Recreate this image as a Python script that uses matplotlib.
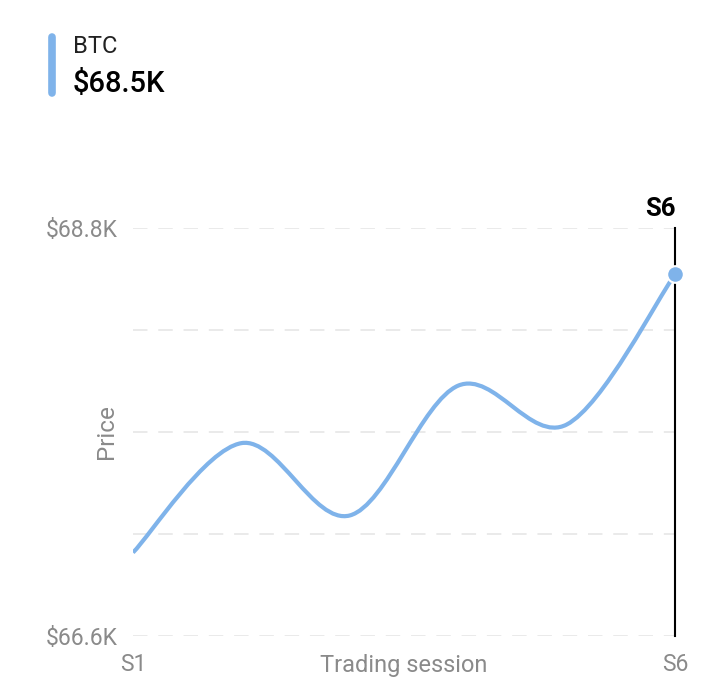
import matplotlib
matplotlib.use("Agg")
import matplotlib.pyplot as plt
from matplotlib.path import Path
from matplotlib.patches import PathPatch
from matplotlib.lines import Line2D

plt.rcParams['font.family'] = ['Roboto', 'DejaVu Sans']

# data
sessions = ['S1', 'S2', 'S3', 'S4', 'S5', 'S6']
prices = [67.05, 67.64, 67.25, 67.95, 67.74, 68.55]   # $K
y_ticks = [66.6, 67.15, 67.7, 68.25, 68.8]
y_labels = ['$66.6K', '', '', '', '$68.8K']
series_name = 'BTC'
last_label = '$68.5K'

blue = '#7fb3ea'
grey = '#8a8a8a'


def smooth_path(xs, ys):
    # catmull-rom through the points, drawn as cubic bezier segments
    pts = list(zip(xs, ys))
    ext = [pts[0]] + pts + [pts[-1]]
    verts = [pts[0]]
    codes = [Path.MOVETO]
    for i in range(1, len(ext) - 2):
        p0, p1, p2, p3 = ext[i - 1], ext[i], ext[i + 1], ext[i + 2]
        c1 = (p1[0] + (p2[0] - p0[0]) / 6, p1[1] + (p2[1] - p0[1]) / 6)
        c2 = (p2[0] - (p3[0] - p1[0]) / 6, p2[1] - (p3[1] - p1[1]) / 6)
        verts += [c1, c2, p2]
        codes += [Path.CURVE4] * 3
    return Path(verts, codes)


fig = plt.figure(figsize=(7.2, 6.99), dpi=100)
ax = fig.add_axes([133 / 720, 1 - 636 / 699, (675 - 133) / 720, (636 - 228) / 699])

xs = list(range(len(sessions)))
ax.add_patch(PathPatch(smooth_path(xs, prices), facecolor='none', edgecolor=blue,
                       lw=3, capstyle='butt', zorder=3))

ax.set_xlim(0, len(sessions) - 1)
ax.set_ylim(y_ticks[0], y_ticks[-1])

for yt in y_ticks:
    ax.axhline(yt, color='#e8e8e8', lw=1.3, dashes=(8, 6), zorder=1)

# hover line at last session
ax.plot([xs[-1], xs[-1]], [y_ticks[0], y_ticks[-1]], color='black', lw=1.5,
        zorder=2, clip_on=False)
ax.plot(xs[-1], prices[-1], 'o', color=blue, ms=12, mec='white', mew=1.5,
        zorder=4, clip_on=False)
ax.text(xs[-1] + 0.01, y_ticks[-1] + 0.04, sessions[-1], ha='right', va='bottom',
        fontsize=18.5, fontweight='bold', color='black')

ax.set_yticks(y_ticks)
ax.set_yticklabels(y_labels)
ax.set_xticks([xs[0], xs[-1]])
ax.set_xticklabels([sessions[0], sessions[-1]])
ax.tick_params(axis='both', length=0, labelsize=16.5, colors=grey)
ax.tick_params(axis='y', pad=11)
ax.tick_params(axis='x', pad=12)
for s in ax.spines.values():
    s.set_visible(False)

ax.set_xlabel('Trading session', fontsize=17, color=grey)
ax.xaxis.set_label_coords(0.5, -0.045)
ax.set_ylabel('Price', fontsize=17.5, color=grey)
ax.yaxis.set_label_coords(-0.028, 0.5)

# legend block
fig.add_artist(Line2D([52 / 720, 52 / 720], [1 - 37 / 699, 1 - 93 / 699], color=blue,
                      lw=5.5, solid_capstyle='round'))
fig.text(73 / 720, 1 - 53 / 699, series_name, fontsize=17, color='#222222', va='baseline')
fig.text(73 / 720, 1 - 92 / 699, last_label, fontsize=21, color='black', va='baseline',
         fontweight='medium')

fig.savefig('out.png', dpi=100, facecolor='white')
